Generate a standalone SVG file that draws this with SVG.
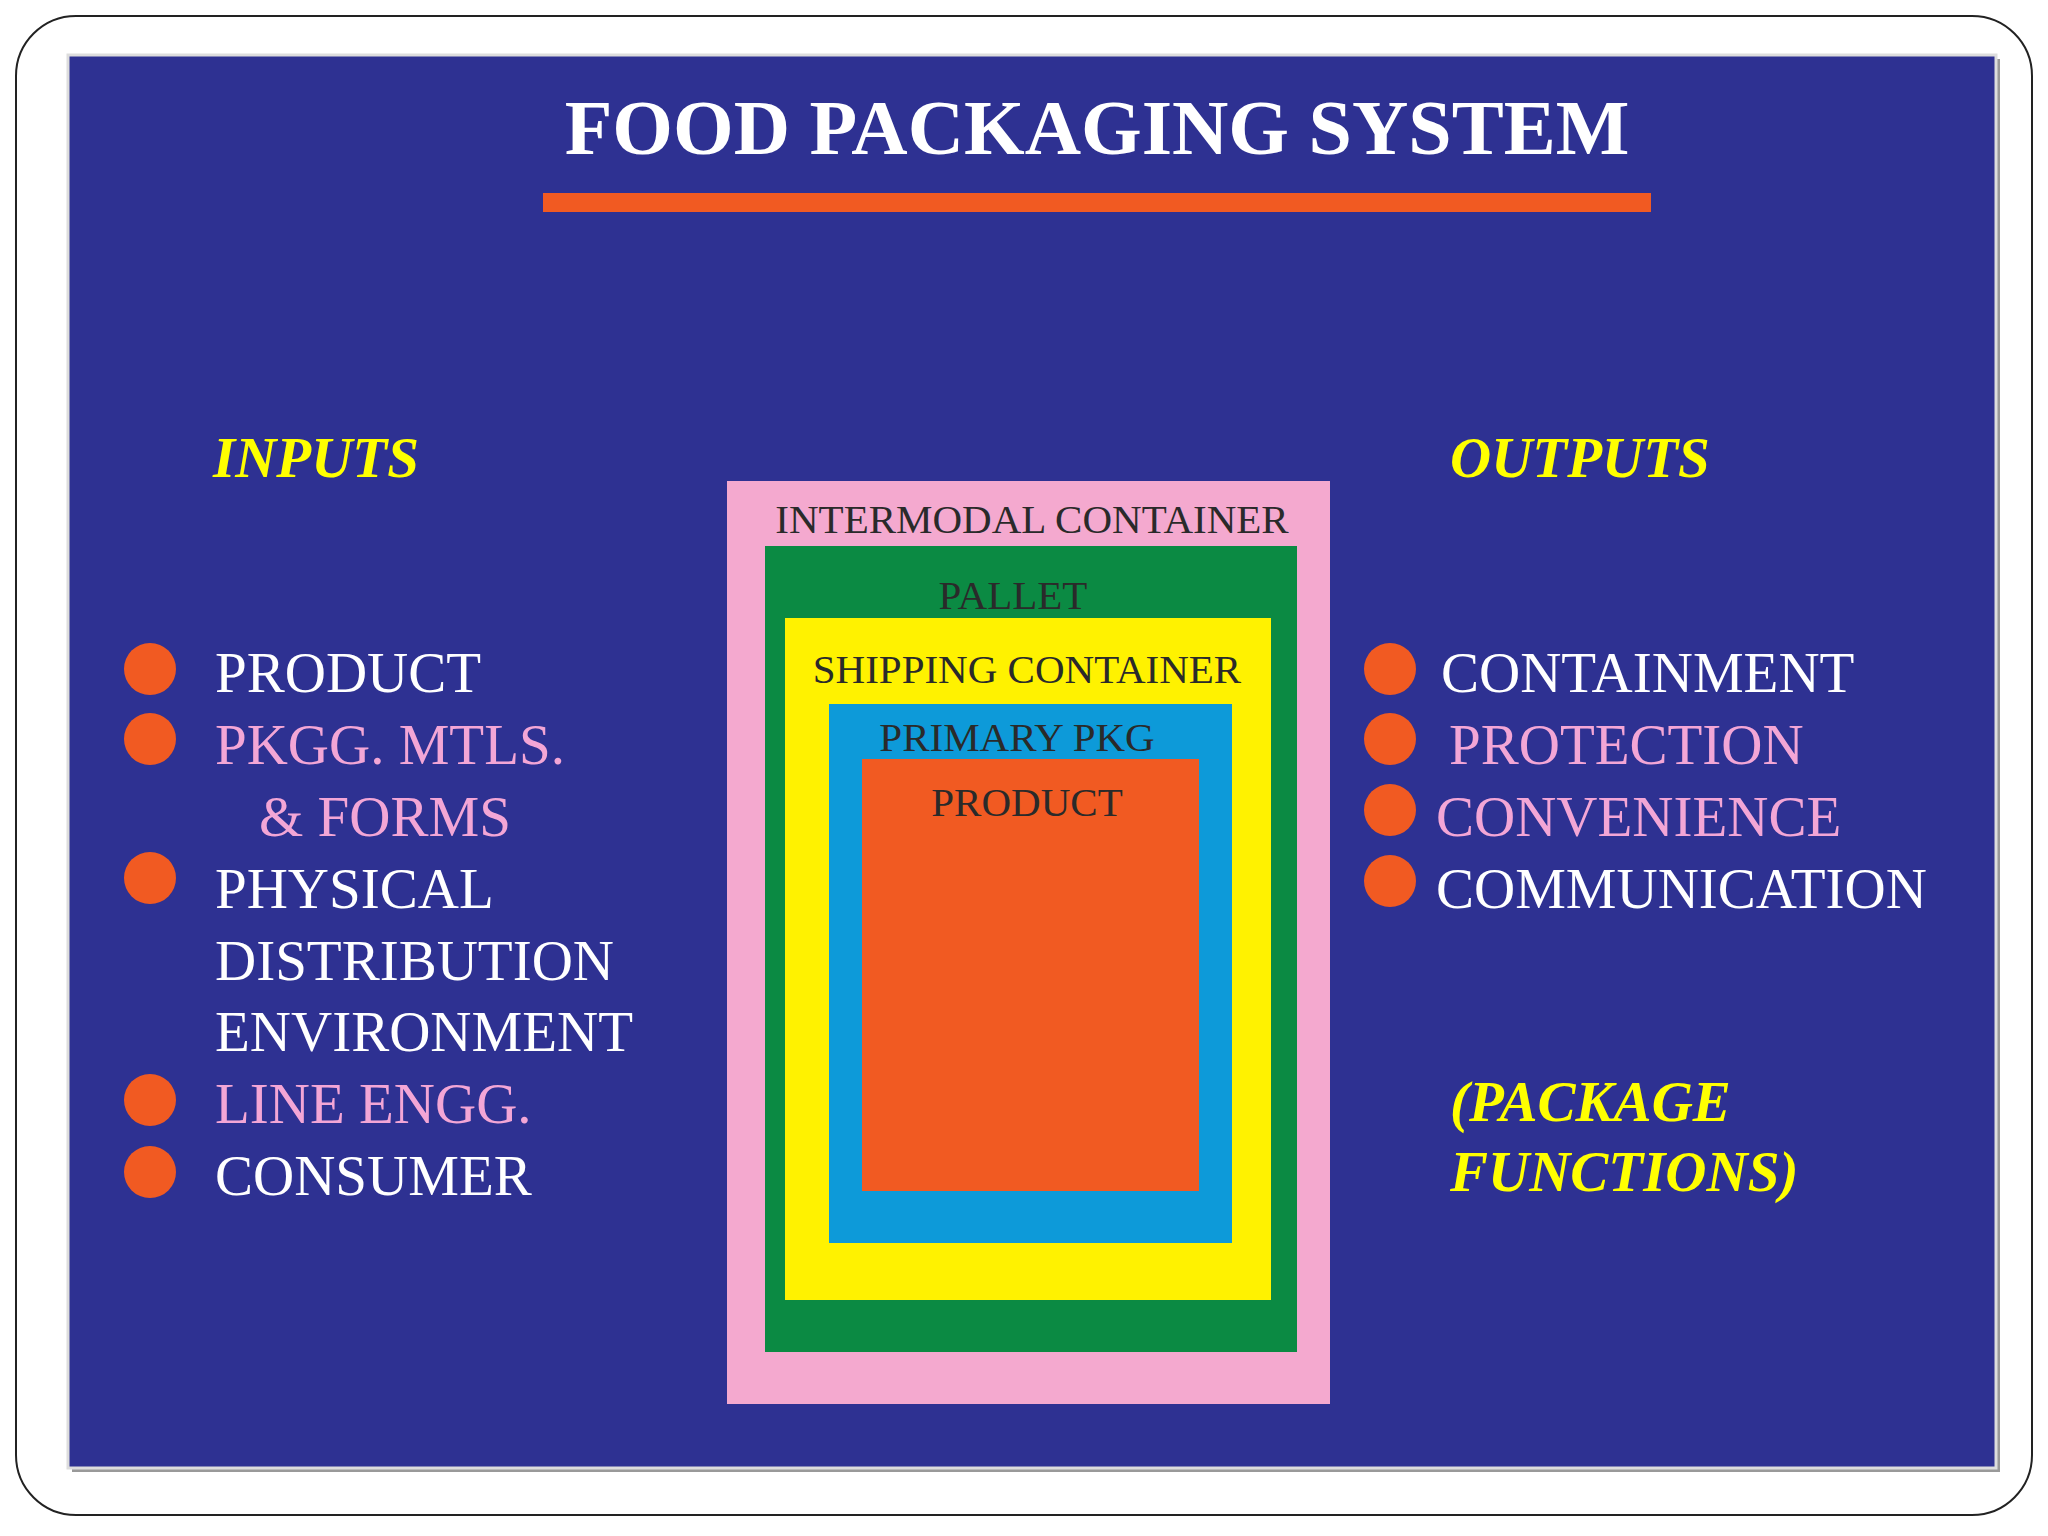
<svg xmlns="http://www.w3.org/2000/svg" width="2048" height="1536" viewBox="0 0 2048 1536">
<style>
.t{font-family:"Liberation Serif","Times New Roman",serif;font-size:57px}
.w{fill:#ffffff}.p{fill:#f3a6d6}.y{fill:#ffff00;font-style:italic;font-weight:bold}
.b{font-family:"Liberation Serif","Times New Roman",serif;font-size:41px;fill:#2a2a2a;text-anchor:middle}
.d{fill:#f15a22}
</style>
<rect width="2048" height="1536" fill="#ffffff"/>
<rect x="16" y="16" width="2016" height="1499" rx="60" fill="#fff" stroke="#222" stroke-width="2"/>
<rect x="72" y="59" width="1928" height="1413" fill="#999"/>
<rect x="68" y="55" width="1928" height="1413" fill="#2e3192" stroke="#ddd" stroke-width="3"/>
<g id="title">
<text x="1097" y="154" text-anchor="middle" font-family="Liberation Serif,serif" font-size="78" font-weight="bold" fill="#fff">FOOD PACKAGING SYSTEM</text>
<rect x="543" y="193" width="1108" height="19" fill="#f15a22"/>
</g>
<g id="inputs">
<text class="t y" x="213" y="477">INPUTS</text>
<circle class="d" cx="150" cy="669" r="26"/><circle class="d" cx="150" cy="739" r="26"/><circle class="d" cx="150" cy="878" r="26"/><circle class="d" cx="150" cy="1100" r="26"/><circle class="d" cx="150" cy="1172" r="26"/>
<text class="t w" x="215" y="692">PRODUCT</text>
<text class="t p" x="215" y="764">PKGG. MTLS.</text>
<text class="t p" x="259" y="836">&amp; FORMS</text>
<text class="t w" x="215" y="908">PHYSICAL</text>
<text class="t w" x="215" y="980">DISTRIBUTION</text>
<text class="t w" x="215" y="1051">ENVIRONMENT</text>
<text class="t p" x="215" y="1123">LINE ENGG.</text>
<text class="t w" x="215" y="1195">CONSUMER</text>
</g>
<g id="outputs">
<text class="t y" x="1450" y="477">OUTPUTS</text>
<circle class="d" cx="1390" cy="669" r="26"/><circle class="d" cx="1390" cy="739" r="26"/><circle class="d" cx="1390" cy="810" r="26"/><circle class="d" cx="1390" cy="881" r="26"/>
<text class="t w" x="1441" y="692">CONTAINMENT</text>
<text class="t p" x="1449" y="764">PROTECTION</text>
<text class="t p" x="1436" y="836">CONVENIENCE</text>
<text class="t w" x="1436" y="908">COMMUNICATION</text>
<text class="t y" x="1450" y="1121">(PACKAGE</text>
<text class="t y" x="1450" y="1191">FUNCTIONS)</text>
</g>
<g id="intermodal"><rect x="727" y="481" width="603" height="923" fill="#f4a9cf"/><text class="b" x="1032" y="533">INTERMODAL CONTAINER</text></g>
<g id="pallet"><rect x="765" y="546" width="532" height="806" fill="#0b8a43"/><text class="b" x="1013" y="609">PALLET</text></g>
<g id="shipping"><rect x="785" y="618" width="486" height="682" fill="#fff200"/><text class="b" x="1027" y="683">SHIPPING CONTAINER</text></g>
<g id="primary"><rect x="829" y="704" width="403" height="539" fill="#0d9ad9"/><text class="b" x="1017" y="751">PRIMARY PKG</text></g>
<g id="product"><rect x="862" y="759" width="337" height="432" fill="#f15a22"/><text class="b" x="1027" y="816">PRODUCT</text></g>
<g id="connectors"/>
</svg>
